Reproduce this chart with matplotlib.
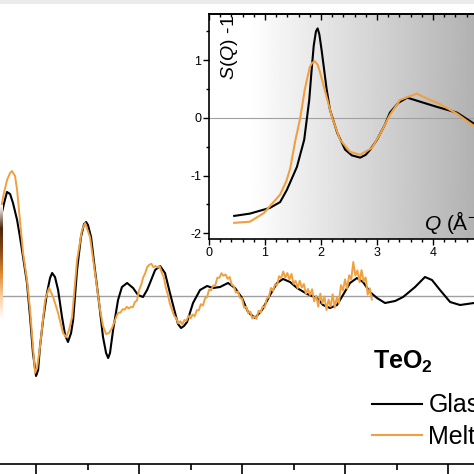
import numpy as np
import matplotlib
matplotlib.use("Agg")
import matplotlib.pyplot as plt
from matplotlib.ticker import MultipleLocator, NullFormatter
from matplotlib.colors import LinearSegmentedColormap
from matplotlib.patches import Rectangle

plt.rcParams['font.family'] = ['Liberation Sans', 'DejaVu Sans']
plt.rcParams['axes.unicode_minus'] = False
plt.rcParams['mathtext.fontset'] = 'custom'
plt.rcParams['mathtext.rm'] = 'Liberation Sans'
plt.rcParams['mathtext.it'] = 'Liberation Sans:italic'
plt.rcParams['mathtext.bf'] = 'Liberation Sans:bold'

# ---------------- data: main panel (oscillating function) ----------------
main_glass_q = [3.25, 3.35, 3.45, 3.59, 3.74, 3.88, 4.08, 4.22, 4.37, 4.56, 4.71, 4.85, 5.00, 5.10,
                5.19, 5.34, 5.53, 5.68, 5.78, 5.92, 6.07, 6.26, 6.41, 6.55, 6.70, 6.80, 6.99, 7.18,
                7.33, 7.43, 7.52, 7.67, 7.86, 8.06, 8.25, 8.40, 8.50, 8.59, 8.74, 8.98, 9.17, 9.42,
                9.71, 9.95, 10.19, 10.39, 10.53, 10.78, 11.02, 11.26, 11.50, 11.75, 11.89, 12.04,
                12.18, 12.33, 12.62, 12.96, 13.30, 13.59, 13.93, 14.32, 14.66, 15.00, 15.29, 15.63,
                15.97, 16.36, 16.70, 16.99, 17.33, 17.67, 18.16, 18.64, 18.93, 19.27, 19.61, 19.90,
                20.24, 20.58, 20.87, 21.21, 21.55, 21.94, 22.43, 22.82, 23.40, 23.88, 24.22, 24.61,
                25.10, 25.58, 26.26]
main_glass_y = [0.74, 0.84, 0.93, 1.04, 1.02, 0.93, 0.76, 0.59, 0.39, 0.13, -0.21, -0.57, -0.80, -0.74,
                -0.51, -0.24, 0.03, 0.18, 0.23, 0.19, 0.06, -0.21, -0.39, -0.46, -0.37, -0.24, 0.26, 0.59,
                0.72, 0.74, 0.71, 0.59, 0.26, -0.07, -0.41, -0.57, -0.62, -0.57, -0.34, -0.04, 0.09, 0.13,
                0.08, 0.01, -0.01, 0.06, 0.13, 0.26, 0.30, 0.23, 0.03, -0.17, -0.28, -0.32,
                -0.30, -0.26, -0.07, 0.06, 0.10, 0.08, 0.09, 0.13, 0.08, -0.02, -0.16, -0.22,
                -0.14, 0.01, 0.13, 0.17, 0.14, 0.08, 0.02, -0.02, -0.09, -0.12, -0.09, 0.01,
                0.13, 0.18, 0.14, 0.04, -0.02, -0.07, -0.05, -0.01, 0.09, 0.19, 0.16, 0.06,
                -0.06, -0.09, -0.07]

main_melt_q_head = [3.25, 3.40, 3.59, 3.74, 3.83, 3.98, 4.08, 4.22, 4.37, 4.56, 4.71, 4.85, 4.95, 5.05,
                    5.19, 5.44, 5.63, 5.83, 6.07, 6.31, 6.46, 6.60, 6.75, 6.99, 7.23, 7.38, 7.62, 7.86,
                    8.11, 8.25, 8.40, 8.54, 8.69, 8.93]
main_melt_y_head = [0.81, 0.99, 1.16, 1.23, 1.25, 1.20, 1.06, 0.76, 0.43, 0.16, -0.14, -0.51, -0.77, -0.72,
                    -0.51, -0.04, 0.08, -0.01, -0.17, -0.37, -0.41, -0.34, -0.21, 0.36, 0.66, 0.73, 0.59, 0.23,
                    -0.14, -0.30, -0.38, -0.37, -0.32, -0.19]
# noisy part of the melt curve, read every 0.1 from 9.0 to 21.3
main_melt_q_tail = np.round(np.arange(9.0, 21.31, 0.1), 1)
main_melt_y_tail = [
    -0.167, -0.166, -0.133, -0.136, -0.108, -0.125, -0.110, -0.112, -0.060, -0.044,
    0.058, 0.109, 0.185, 0.229, 0.292, 0.312, 0.322, 0.288, 0.300, 0.286,
    0.298, 0.234, 0.190, 0.084, 0.012, -0.078, -0.138, -0.197, -0.220, -0.274,
    -0.252, -0.285, -0.240, -0.248, -0.195, -0.225, -0.185, -0.203, -0.143, -0.143,
    -0.082, -0.096, -0.025, -0.011, 0.065, 0.057, 0.105, 0.105, 0.183, 0.182,
    0.228, 0.202, 0.215, 0.172, 0.190, 0.112, 0.100, 0.035, 0.045, -0.018,
    -0.025, -0.117, -0.106, -0.173, -0.155, -0.225, -0.203, -0.230, -0.147, -0.166,
    -0.105, -0.117, -0.026, -0.013, 0.080, 0.050, 0.117, 0.110, 0.198, 0.179,
    0.245, 0.183, 0.230, 0.165, 0.220, 0.122, 0.152, 0.078, 0.153, 0.085,
    0.120, 0.023, 0.070, 0.010, 0.068, -0.053, 0.003, -0.107, 0.024, -0.074,
    -0.004, -0.140, -0.036, -0.105, 0.017, -0.116, -0.014, -0.070, 0.109, 0.056,
    0.166, 0.073, 0.207, 0.165, 0.340, 0.204, 0.256, 0.140, 0.259, 0.146,
    0.186, 0.013, 0.077, -0.035]

# ---------------- data: inset S(Q)-1 ----------------
inset_glass_q = [0.45, 0.73, 1.09, 1.27, 1.39, 1.57, 1.70, 1.79, 1.83, 1.87, 1.91, 1.94, 1.97, 2.01,
                 2.05, 2.10, 2.16, 2.29, 2.43, 2.55, 2.70, 2.80, 2.88, 3.00, 3.14, 3.23, 3.38, 3.54,
                 3.77, 4.07, 4.43, 4.73]
inset_glass_y = [-1.70, -1.66, -1.56, -1.46, -1.25, -0.85, -0.38, 0.31, 0.80, 1.25, 1.50, 1.55, 1.45, 1.18,
                 0.88, 0.50, 0.14, -0.26, -0.55, -0.65, -0.69, -0.64, -0.55, -0.38, -0.12, 0.09, 0.26, 0.35,
                 0.28, 0.19, 0.09, -0.10]
inset_melt_q = [0.45, 0.73, 0.98, 1.27, 1.38, 1.45, 1.54, 1.63, 1.71, 1.80, 1.84, 1.89, 1.94, 1.98,
                2.09, 2.20, 2.34, 2.52, 2.70, 2.91, 3.05, 3.23, 3.41, 3.71, 3.86, 4.12, 4.43, 4.73]
inset_melt_y = [-1.82, -1.80, -1.65, -1.33, -1.10, -0.88, -0.40, 0.00, 0.49, 0.88, 0.95, 0.98, 0.92, 0.80,
                0.40, 0.00, -0.38, -0.59, -0.64, -0.52, -0.29, 0.05, 0.31, 0.42, 0.35, 0.24, 0.07, -0.14]

legend_title = r'$\mathbf{TeO_2}$'
series_labels = ['Glass', 'Melt']
BLACK = '#000000'
ORANGE = '#F0A040'

W = H = 474
fig = plt.figure(figsize=(W / 100, H / 100), dpi=100)

# ---------------- main axes ----------------
b = 10 / H
ax = fig.add_axes([0, b, 1, 1 - b])
ax.set_xlim(3.25, 26.26)
ax.set_ylim(-1.68, 2.96)
for s in ['left', 'right', 'top']:
    ax.spines[s].set_visible(False)
ax.spines['bottom'].set_linewidth(1.2)
ax.axhline(0, color='#a0a0a0', lw=1.0, zorder=1)
ax.xaxis.set_major_locator(MultipleLocator(5))
ax.xaxis.set_minor_locator(MultipleLocator(2.5))
ax.xaxis.set_major_formatter(NullFormatter())
ax.tick_params(axis='x', which='major', direction='out', length=9, width=1.2)
ax.tick_params(axis='x', which='minor', direction='out', length=4, width=1.2)
ax.set_yticks([])
ax.set_facecolor('none')

l_glass, = ax.plot(main_glass_q, main_glass_y, color=BLACK, lw=1.5, zorder=3)
melt_q = list(main_melt_q_head) + list(main_melt_q_tail)
melt_y = list(main_melt_y_head) + list(main_melt_y_tail)
l_melt, = ax.plot(melt_q, melt_y, color=ORANGE, lw=1.4, zorder=4)

# ---------------- inset ----------------
x0 = 209 / W
ax_in = fig.add_axes([x0, (H - 239) / H, 308 / W, 225 / H])
ax_in.set_xlim(0, 5.5)
ax_in.set_ylim(-2.10, 1.80)
gx = np.linspace(0, 5.5, 300)
gv = np.clip(1.0 - np.clip(gx - 0.7, 0, None) * 0.075, 0, 1)
ax_in.imshow(np.tile(gv, (2, 1)), extent=[0, 5.5, -2.10, 1.80], aspect='auto',
             cmap='gray', vmin=0, vmax=1, zorder=0, interpolation='bilinear')
ax_in.axhline(0, color='#a0a0a0', lw=0.8, zorder=1)
ax_in.plot(inset_glass_q, inset_glass_y, color=BLACK, lw=1.5, zorder=3)
ax_in.plot(inset_melt_q, inset_melt_y, color=ORANGE, lw=1.5, zorder=4)
for s in ax_in.spines.values():
    s.set_linewidth(1.2)
ax_in.xaxis.set_major_locator(MultipleLocator(1))
ax_in.xaxis.set_minor_locator(MultipleLocator(0.2))
ax_in.yaxis.set_major_locator(MultipleLocator(1))
ax_in.yaxis.set_minor_locator(MultipleLocator(0.5))
ax_in.tick_params(which='major', direction='out', length=4, width=1.0, labelsize=9, pad=1.5)
ax_in.tick_params(which='minor', direction='out', length=2.5, width=1.0)
sec = ax_in.secondary_xaxis('top')
sec.xaxis.set_major_locator(MultipleLocator(1))
sec.xaxis.set_minor_locator(MultipleLocator(0.2))
sec.tick_params(which='major', direction='in', length=4, width=1.0, labeltop=False)
sec.tick_params(which='minor', direction='in', length=2.5, width=1.0)
sec.xaxis.set_major_formatter(NullFormatter())
sec.spines['top'].set_linewidth(1.2)

ax_in.text((229 - 209) / 308, 0.995, r'$S(Q)$ -1', rotation=90, ha='center', va='top',
           fontsize=14, transform=ax_in.transAxes, zorder=5)
ax_in.text((424 - 209) / 308, (239 - 230) / 225, r'$Q$ (Å$^{-1}$)', ha='left', va='baseline',
           fontsize=15, transform=ax_in.transAxes, zorder=5)

# ---------------- legend ----------------
fig.text(373 / W, (H - 369) / H, legend_title, ha='left', va='baseline', fontsize=18)
leg = fig.legend(handles=[l_glass, l_melt], labels=series_labels, loc='center left',
                 bbox_to_anchor=(372 / W, (H - 421) / H), frameon=False, fontsize=18,
                 handlelength=2.0, handletextpad=0.25, labelspacing=0.3,
                 borderpad=0, borderaxespad=0)
for lh in leg.get_lines():
    lh.set_linewidth(1.5)

# ---------------- decorations ----------------
fig.patches.append(Rectangle((0, 1 - 4 / H), 1, 4 / H, transform=fig.transFigure,
                             facecolor='#ebebeb', edgecolor='none', zorder=10))
strip_cmap = LinearSegmentedColormap.from_list(
    'strip', ['#ffffff', '#4a2408', '#8a4a18', '#e08a30', '#f8d0a0', '#ffffff'])
ax_s = fig.add_axes([0, (H - 320) / H, 3 / W, 115 / H])
ax_s.imshow(np.linspace(0, 1, 100)[:, None], aspect='auto', cmap=strip_cmap)
ax_s.axis('off')

fig.savefig('out.png', dpi=100)
